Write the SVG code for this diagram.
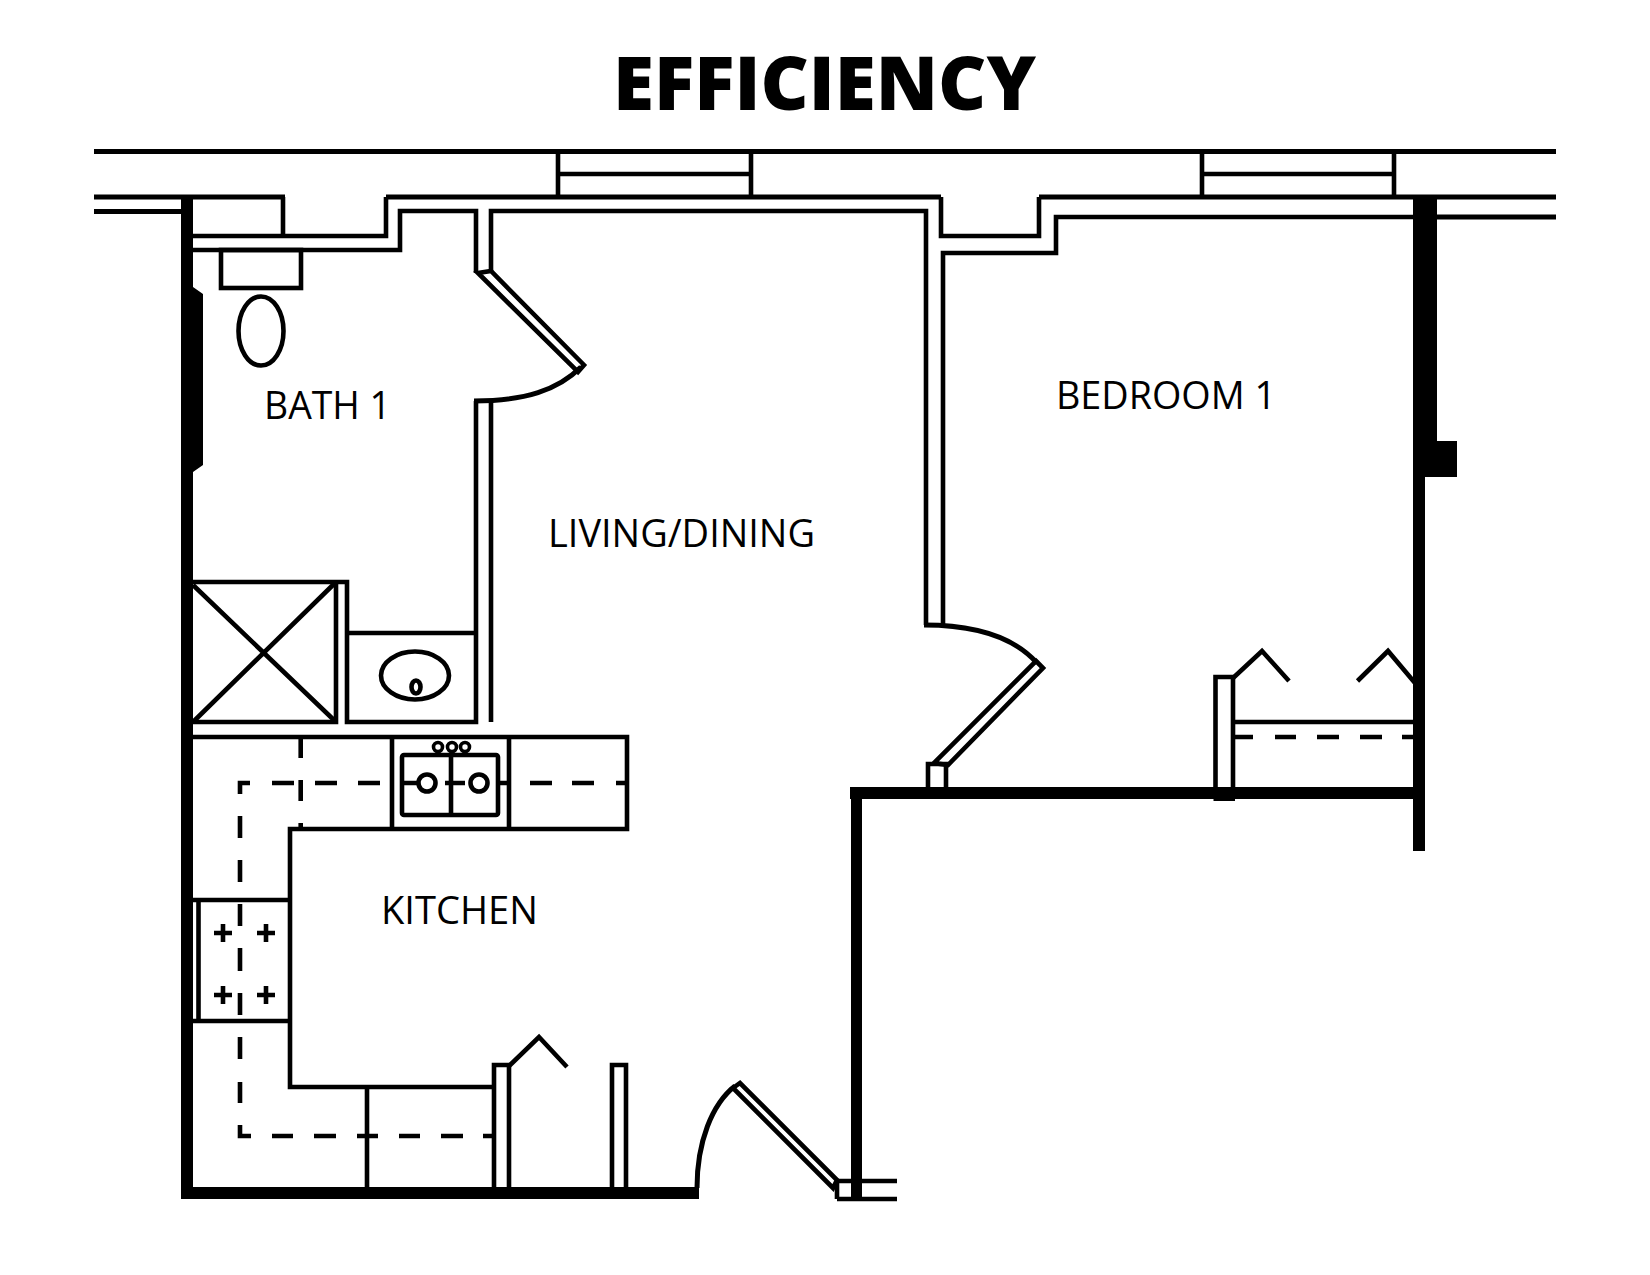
<svg xmlns="http://www.w3.org/2000/svg" width="1650" height="1275" viewBox="0 0 1650 1275">
<style>
.l{fill:none;stroke:#000;stroke-width:4.6;stroke-linecap:butt;stroke-linejoin:miter}
.t{stroke-width:5}
.w{fill:#000;stroke:none}
.d{fill:none;stroke:#000;stroke-width:4.6}
.f{fill:none;stroke:#000;stroke-width:3.6}
text{font-family:"Open Sans","Noto Sans","Liberation Sans",sans-serif;fill:#000}
.r{font-size:39px;font-weight:400}
.h{font-size:74px;font-weight:800}
</style>
<rect width="1650" height="1275" fill="#fff"/>
<g id="title"><text class="h" x="613" y="110" textLength="423" lengthAdjust="spacingAndGlyphs">EFFICIENCY</text></g>
<g id="exterior-lines">
<path class="l t" d="M94 151.500H1556M94 197H285M94 211.500H181M386 197H941M1039 197H1556M1437 217H1556"/>
<path class="l" d="M558 151.500V197M751 151.500V197M558 174H751M1202 151.500V197M1394 151.500V197M1202 174H1394"/>
</g>
<g id="walls">
<path class="w" d="M181 197H193V287L203 294V465L193 472V1187H699V1199H181Z"/>
<path class="w" d="M1413 197H1437V441H1457V477H1425V851H1413V799H862V1199H851V799H850V787H1413Z"/>
<path class="l" d="M283 197V236H193M386 197V236H283M193 250H400V211H476V273M491 272V211H926V625M941 197V236H1039V197M943 625V253H1056V217H1413"/>
<path class="l" d="M476 401V722H347V582H193M491 401V722M336 582V722H193M348 633H477"/>
<path class="l" d="M928 787V764H946V787M1215.500 787V677H1233V787"/>
<path class="w" d="M1213.500 787H1235V801H1213.500Z"/>
<path class="l" d="M494 1187V1065H509V1187M612 1187V1065H626V1187"/>
<path class="l" d="M837 1199V1181H897M837 1199H897"/>
</g>
<g id="door-bath">
<path class="l" d="M478 273L491 271L584 365L578 372Z"/>
<path class="l t" d="M474 401C525 401 558 390 581 367"/>
</g>
<g id="door-bedroom">
<path class="l" d="M1036 661L1043 668L948 765L934 763Z"/>
<path class="l t" d="M924 625C975 625 1013 636 1037 663"/>
</g>
<g id="door-entry">
<path class="l" d="M733 1088L740 1083L837 1180L833 1188Z"/>
<path class="l t" d="M697 1188C697 1142 712 1104 735 1086"/>
</g>
<g id="toilet">
<rect class="l" x="221" y="250" width="80" height="38"/>
<ellipse class="l" cx="261" cy="331" rx="22.500" ry="34.500"/>
</g>
<g id="shower"><path class="l" d="M193 585L336 722M336 582L193 722"/></g>
<g id="vanity">
<ellipse class="l" cx="415" cy="675.500" rx="34" ry="24"/>
<ellipse class="l" cx="416" cy="687" rx="4.500" ry="6.500"/>
</g>
<g id="kitchen-counter">
<path class="l" d="M193 737H627V829H290V1087H494M392 737V829M509 737V829M367 1087V1187M193 900H290M193 1021H290M198.500 900V1021"/>
<path class="d" d="M250 783H240V794M272 783H294M315 783H337M358 783H380M403 783H418M445 783H465M498 783H507M530 783H552M572 783H594M616 783H625M240 816V838M240 860V882M240 904V926M240 948V971M240 993V1015M240 1037V1059M240 1082V1103M240 1125V1136H251M272 1136H293M314 1136H336M357 1136H378M399 1136H420M441 1136H463M483 1136H494M300.700 739V758M300.700 780V801M300.700 823V829"/>
</g>
<g id="sink">
<rect class="l" x="402" y="755" width="96" height="60" rx="2"/>
<path class="l" d="M451 755V815"/>
<circle class="l" cx="427" cy="783" r="8.500"/>
<circle class="l" cx="479" cy="783" r="8.500"/>
<circle class="f" cx="438" cy="747" r="4.500"/>
<circle class="f" cx="452" cy="747" r="4.500"/>
<circle class="f" cx="465" cy="747" r="4.500"/>
</g>
<g id="stove">
<path class="l" d="M214 933H232M223 924V942M257 933H275M266 924V942M214 995H232M223 986V1004M257 995H275M266 986V1004"/>
</g>
<g id="closet-bedroom">
<path class="l" d="M1233 722H1413"/>
<path class="d" d="M1233 737H1253M1275 737H1296M1317 737H1339M1360 737H1382M1402 737H1413"/>
<path class="l" d="M1232 679L1262 651L1289 681M1357.500 681L1388 651L1415 683"/>
</g>
<g id="kitchen-closet"><path class="l" d="M508 1067L539 1037L567 1067"/></g>
<g id="label-bath"><text class="r" x="264" y="419" textLength="127" lengthAdjust="spacingAndGlyphs">BATH 1</text></g>
<g id="label-bedroom"><text class="r" x="1056" y="409" textLength="220" lengthAdjust="spacingAndGlyphs">BEDROOM 1</text></g>
<g id="label-living"><text class="r" x="548" y="547" textLength="267" lengthAdjust="spacingAndGlyphs">LIVING/DINING</text></g>
<g id="label-kitchen"><text class="r" x="381" y="924" textLength="157" lengthAdjust="spacingAndGlyphs">KITCHEN</text></g>
</svg>
